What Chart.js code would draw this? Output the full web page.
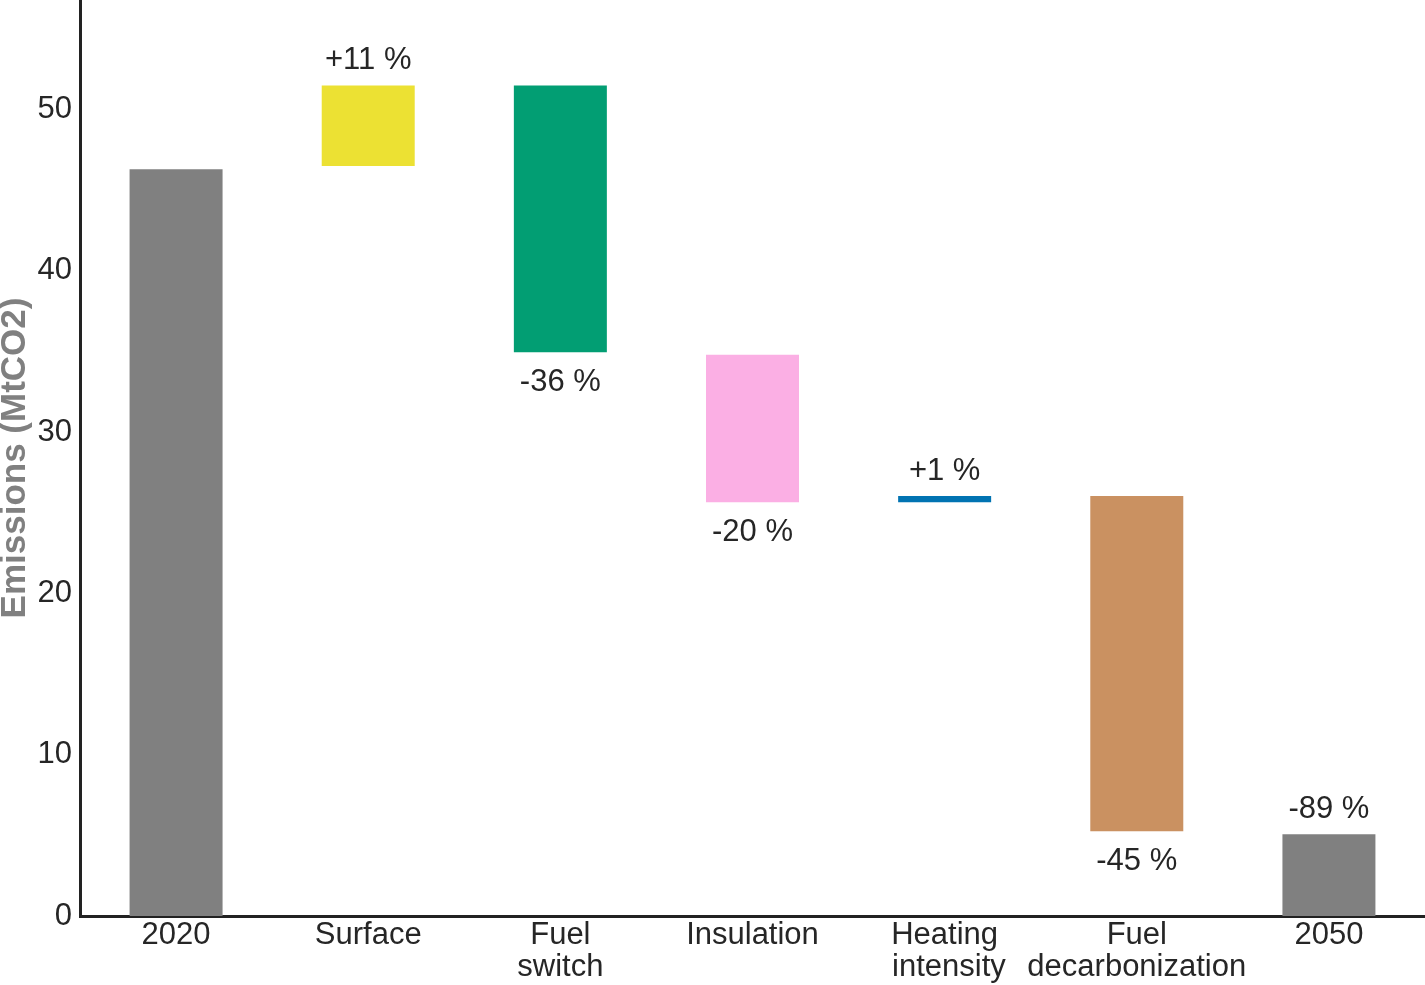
<!DOCTYPE html>
<html>
<head>
<meta charset="utf-8">
<script src="https://cdn.jsdelivr.net/npm/chart.js@4.4.1/dist/chart.umd.min.js"></script>
<style>
  html, body { margin: 0; padding: 0; background: #fff; }
  #wrap { width: 1425px; height: 985px; }
</style>
</head>
<body>
<div id="wrap"><canvas id="waterfall" width="1425" height="985"></canvas></div>
<script>
// categories and floating bar ranges (MtCO2)
const categories = ['2020', 'Surface', ['Fuel', 'switch'], 'Insulation', ['Heating', ' intensity'], ['Fuel', 'decarbonization'], '2050'];
const barStart = [0, 46.5, 51.5, 34.8, 25.65, 26.05, 0];
const barEnd = [46.3, 51.5, 34.95, 25.65, 26.05, 5.25, 5.07];
const changeLabels = ['', '+11 %', '-36 %', '-20 %', '+1 %', '-45 %', '-89 %'];
const isTotal = [true, false, false, false, false, false, true];
const barColors = ['#808080', '#ECE133', '#029E73', '#FBAFE4', '#0173B2', '#CA9161', '#808080'];
const yTicks = [0, 10, 20, 30, 40, 50];

const FONT = "'Liberation Sans', Arial, sans-serif";
const INK = '#262626';

// percent labels: above the bar for gains and totals, below for cuts
const changeLabelPlugin = {
  id: 'changeLabels',
  afterDatasetsDraw(chart) {
    const { ctx } = chart;
    const meta = chart.getDatasetMeta(0);
    ctx.save();
    ctx.font = '31px ' + FONT;
    ctx.fillStyle = INK;
    ctx.textAlign = 'center';
    ctx.textBaseline = 'alphabetic';
    meta.data.forEach((bar, i) => {
      const text = changeLabels[i];
      if (!text) return;
      const top = Math.min(bar.y, bar.base);
      const bottom = Math.max(bar.y, bar.base);
      const up = isTotal[i] || barEnd[i] > barStart[i];
      ctx.fillText(text, bar.x, up ? top - 16 : bottom + 39);
    });
    ctx.restore();
  }
};

new Chart(document.getElementById('waterfall'), {
  type: 'bar',
  plugins: [changeLabelPlugin],
  data: {
    labels: categories,
    datasets: [{
      data: barStart.map((s, i) => [s, barEnd[i]]),
      backgroundColor: barColors,
      borderWidth: 0,
      barPercentage: 0.484,
      categoryPercentage: 1
    }]
  },
  options: {
    responsive: false,
    animation: false,
    devicePixelRatio: 1,
    layout: { padding: 0 },
    plugins: {
      legend: { display: false },
      tooltip: { enabled: false }
    },
    scales: {
      x: {
        grid: { display: false, drawTicks: false },
        border: { display: true, color: '#222', width: 3 },
        ticks: {
          color: INK,
          font: { family: FONT, size: 31, lineHeight: 1.02 },
          padding: 4,
          maxRotation: 0,
          autoSkip: false
        },
        afterFit: s => { s.height = 69; s.paddingLeft = 0; s.paddingRight = 0; }
      },
      y: {
        min: 0,
        max: 56.8,
        grid: { display: false, drawTicks: false },
        border: { display: true, color: '#222', width: 3 },
        afterBuildTicks: s => { s.ticks = yTicks.map(v => ({ value: v })); },
        ticks: {
          color: INK,
          font: { family: FONT, size: 31 },
          padding: 8
        },
        title: {
          display: true,
          text: 'Emissions (MtCO2)',
          color: '#808080',
          font: { family: FONT, size: 35, weight: 'bold', lineHeight: 1 },
          padding: { top: -2, bottom: 0 }
        },
        afterFit: s => { s.width = 80; s.paddingTop = 0; s.paddingBottom = 0; }
      }
    }
  }
});
</script>
</body>
</html>
